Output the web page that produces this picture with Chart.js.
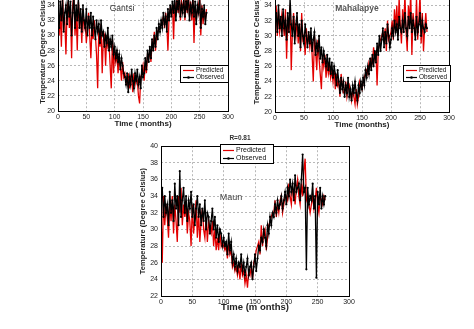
<!DOCTYPE html>
<html>
<head>
<meta charset="utf-8">
<script src="https://cdn.jsdelivr.net/npm/chart.js@4.4.0/dist/chart.umd.min.js"></script>
<style>
  html, body { margin: 0; padding: 0; background: #fff; }
  body { width: 474px; height: 329px; position: relative; overflow: hidden; font-family: "Liberation Sans", Arial, sans-serif; }
  canvas { position: absolute; }
  .lbl { position: absolute; transform: translate(-50%, -50%); white-space: nowrap; color: #333; }
</style>
</head>
<body>
<canvas id="gantsi" width="204" height="148" style="left:34px;top:-17px"></canvas>
<canvas id="mahalapye" width="211" height="149" style="left:248px;top:-17px"></canvas>
<canvas id="maun" width="225" height="178" style="left:134px;top:139px"></canvas>
<div class="lbl" style="left:122px;top:8px;font-size:8.5px;">Gantsi</div>
<div class="lbl" style="left:357px;top:8px;font-size:8.5px;font-weight:bold;color:#555;">Mahalapye</div>
<div class="lbl" style="left:231px;top:197px;font-size:9px;color:#444;">Maun</div>
<div class="lbl" style="left:240px;top:137px;font-size:6.5px;font-weight:bold;">R=0.81</div>
<script>
// month axis: one value every 2 months
const MONTH_STEP = 2;
const months = Array.from({ length: 132 }, (_, i) => i * MONTH_STEP);
const xTicks = [0, 50, 100, 150, 200, 250, 300];

// Gantsi
const gantsiObserved = [
  33.5, 31, 34.5, 32, 35, 30.5, 33, 34, 31.5, 35,
  32.5, 34.5, 30, 33, 35.5, 31, 34, 32, 35, 31,
  33.5, 30.5, 34, 32, 31, 33.5, 30, 32.5, 31, 33,
  30, 32.5, 31, 29.5, 32, 30.5, 31.5, 29, 32, 30,
  30.5, 28.5, 30, 29, 31, 28, 29.5, 28.5, 30, 27.5,
  28.5, 27, 28, 26.5, 27.5, 25.5, 27, 26, 25, 24.5,
  23.5, 25, 22.5, 24.5, 23.5, 25.5, 24, 23, 25, 24,
  25.5, 23.5, 24.5, 23, 26, 24.5, 25, 27, 25.5, 28,
  26.5, 28.5, 27, 29.5, 28, 30, 28.5, 31, 29.5, 31.5,
  30.5, 32, 31, 33, 31.5, 32.5, 30.5, 33.5, 32, 34,
  32.5, 34.5, 33, 35, 32, 34.5, 33.5, 35.5, 32.5, 34,
  33, 35, 32.5, 34.5, 33.5, 35.5, 32, 34, 33, 35,
  32.5, 34.5, 31.5, 34, 33, 35, 31, 33.5, 32.5, 34,
  31.5, 33
];
const gantsiPredicted = [
  34, 30, 33, 28.5, 35, 31.5, 32, 27.5, 33.5, 34.5,
  31, 33.5, 27, 34, 35.5, 30, 33, 28, 34.5, 32,
  32.5, 29, 33.5, 31, 32, 29, 31, 33, 30, 27,
  31, 29.5, 32, 30, 27.5, 23, 31, 28.5, 31.5, 25,
  29.5, 30, 26, 30, 28.5, 29, 26, 23, 29.5, 25,
  28, 26.5, 27.5, 25, 27, 26, 24, 26.5, 24.5, 25,
  24, 23.5, 25, 23, 24.5, 24, 22.5, 25, 23.5, 24.5,
  24, 22, 21, 24.5, 25, 26, 24, 26.5, 25, 27.5,
  27, 28, 26.5, 29, 28.5, 30.5, 28, 30, 30.5, 31,
  31, 31.5, 32, 32.5, 31, 33, 31.5, 28, 32.5, 33.5,
  33, 34, 29.5, 34.5, 32.5, 35, 33, 35.5, 32, 34.5,
  33.5, 34.5, 32, 35, 33, 35.5, 32.5, 34.5, 32, 35,
  29, 34, 32, 33.5, 34, 35, 30, 34, 31.5, 33.5,
  32, 33.5
];

// Mahalapye
const mahalapyeObserved = [
  31.5, 33, 30.5, 34, 31, 32.5, 30, 33.5, 31, 32,
  29.5, 33, 30.5, 35, 31.5, 30, 32.5, 29, 31.5, 33,
  30, 31.5, 28.5, 32, 30, 29, 31.5, 30, 28.5, 30.5,
  29, 31, 28, 29.5, 30.5, 27.5, 29, 28, 30, 27,
  28.5, 26.5, 28, 27, 26, 27.5, 25.5, 27, 25, 26.5,
  24.5, 26, 25, 23.5, 25.5, 24, 22.5, 24.5, 23, 24,
  22, 23.5, 22.5, 24.5, 22, 23, 21.5, 23.5, 22.5, 24,
  22.5, 21.5, 23.5, 22.5, 24, 23, 24.5, 23.5, 25.5, 24.5,
  26, 25, 27, 25.5, 27.5, 26, 28, 26.5, 29, 27.5,
  30, 28, 29.5, 31, 28.5, 30.5, 29, 31.5, 30, 28.5,
  29.5, 31, 30, 32, 30.5, 31.5, 29.5, 32.5, 31, 30.5,
  32, 30.5, 33, 31, 30, 32.5, 31, 33, 30.5, 32,
  31, 29.5, 32.5, 30.5, 31.5, 33, 30, 32, 31, 30.5,
  31.5, 31
];
const mahalapyePredicted = [
  32, 34, 30, 33.5, 30.5, 31.5, 33, 32, 30, 33.5,
  27, 32, 31, 34, 25.5, 30.5, 33, 31, 30, 32.5,
  29, 31.5, 28, 33, 29.5, 30, 27.5, 31, 29, 30,
  28.5, 30, 27.5, 24, 30, 28, 25.5, 29.5, 27, 25,
  23, 27.5, 26, 27.5, 24.5, 26.5, 25, 26, 24.5, 25.5,
  24, 25.5, 23, 25, 23.5, 24, 22, 25, 23.5, 22.5,
  22.5, 24, 22, 23, 23.5, 22.5, 21.5, 23, 22, 21,
  23, 21, 22, 24, 23.5, 23, 24, 24.5, 25, 25.5,
  25, 26.5, 26, 27, 26.5, 28.5, 27, 28, 23.5, 28,
  29, 29.5, 30, 30.5, 29.5, 31, 28, 32, 29.5, 30,
  30.5, 32, 29.5, 33.5, 31, 34, 30, 35, 31.5, 29,
  33.5, 31, 35.5, 30.5, 28, 34, 31.5, 36, 27.5, 33,
  31.5, 30, 35, 29.5, 32, 35.5, 29, 33, 28, 31,
  33, 30.5
];

// Maun
const maunObserved = [
  33.5, 35, 31.5, 34, 32, 33, 30.5, 34.5, 32, 33.5,
  31, 35.5, 32.5, 34, 30.5, 37, 31.5, 33.5, 35, 32,
  34, 31, 33.5, 32.5, 34.5, 31.5, 33, 30.5, 32.5, 34,
  31.5, 33, 30.5, 32.5, 31, 33.5, 30, 32, 31.5, 29.5,
  31, 32.5, 30, 31.5, 29, 30.5, 28.5, 30, 29.5, 28,
  29, 28, 28.5, 27, 29.5, 27.5, 28.5, 26, 27, 25.5,
  26.5, 25, 26, 25.5, 27, 25, 26, 24.5, 25.5, 26.5,
  24.5, 25.5, 26, 24, 25.5, 27, 25, 26.5, 28, 27.5,
  29, 28.5, 30, 29, 28, 30.5, 29.5, 31.5, 30.5, 32,
  31.5, 33, 32, 33.5, 32.5, 33, 34, 32.5, 33.5, 34.5,
  33, 35, 34, 36, 34.5, 35.5, 33.5, 36.5, 34.5, 35,
  35.5, 33.5, 36, 39, 34.5, 35, 25.2, 35, 33, 34,
  33.5, 35.5, 32.5, 34, 24.2, 34.5, 33, 35, 32.5, 34,
  33, 34
];
const maunPredicted = [
  32, 26, 34, 30.5, 33, 31.5, 29, 33.5, 31, 34,
  29.5, 33, 31, 28.5, 34, 32, 35, 30.5, 33, 31.5,
  33, 29.5, 32, 31, 28, 33, 29.5, 31.5, 33.5, 29,
  32, 28.5, 31, 32.5, 30, 29, 31.5, 28.5, 31, 30,
  29.5, 31, 28, 30, 27.5, 29, 27.5, 29.5, 28, 28.5,
  28, 27.5, 28, 26.5, 28.5, 27, 27.5, 25.5, 26, 25,
  25.5, 24.5, 25.5, 24, 26, 24.5, 25, 23.5, 24.5, 23,
  25, 24.5, 25.5, 24, 26, 26.5, 27.5, 28, 28.5, 27,
  30.5, 28, 29.5, 30, 27.5, 29, 30.5, 31, 31.5, 32,
  32, 33.5, 31.5, 33, 32, 33.5, 34, 32, 33, 34,
  34, 33.5, 35.5, 34, 33, 35, 34.5, 33, 35, 36,
  34, 33, 35.5, 34, 37, 38.5, 33.5, 34, 33, 32,
  33, 34, 32.5, 33.5, 35, 33, 32, 34, 33.5, 33,
  34, 33.5
];

const FONT = '"Liberation Sans", Arial, sans-serif';

function toPoints(values) {
  return values.map((v, i) => ({ x: months[i], y: v }));
}

// black box round the plot area
const framePlugin = {
  id: 'frame',
  afterDraw(chart) {
    const a = chart.chartArea;
    const ctx = chart.ctx;
    ctx.save();
    ctx.strokeStyle = '#000';
    ctx.lineWidth = 1;
    ctx.strokeRect(Math.round(a.left) + 0.5, Math.round(a.top) + 0.5,
      Math.round(a.right - a.left), Math.round(a.bottom - a.top));
    ctx.restore();
  }
};

// small boxed legend inside the plot
const boxLegendPlugin = {
  id: 'boxLegend',
  afterDraw(chart, args, o) {
    const ctx = chart.ctx;
    ctx.save();
    ctx.fillStyle = '#fff';
    ctx.fillRect(o.x, o.y, o.w, o.h);
    ctx.strokeStyle = '#000';
    ctx.lineWidth = 1;
    ctx.strokeRect(o.x + 0.5, o.y + 0.5, o.w, o.h);
    const rows = [chart.data.datasets[1], chart.data.datasets[0]];
    ctx.font = o.fontSize + 'px ' + FONT;
    ctx.textBaseline = 'middle';
    rows.forEach((ds, i) => {
      const y = Math.round(o.y + o.h * (i === 0 ? 0.3 : 0.72)) + 0.5;
      ctx.strokeStyle = ds.borderColor;
      ctx.lineWidth = 1.2;
      ctx.beginPath();
      ctx.moveTo(o.x + 3, y);
      ctx.lineTo(o.x + 14, y);
      ctx.stroke();
      if (ds.pointRadius > 0) {
        ctx.fillStyle = ds.borderColor;
        ctx.beginPath();
        ctx.arc(o.x + 8.5, y, 1.3, 0, Math.PI * 2);
        ctx.fill();
      }
      ctx.fillStyle = '#111';
      ctx.fillText(ds.label, o.x + 16, y);
    });
    ctx.restore();
  }
};

function makeChart(id, predicted, observed, cfg) {
  new Chart(document.getElementById(id), {
    type: 'line',
    data: {
      datasets: [
        {
          label: 'Observed',
          data: toPoints(observed),
          borderColor: '#000',
          borderWidth: 1.3,
          pointRadius: 1.1,
          pointBackgroundColor: '#000',
          pointBorderWidth: 0,
          order: 0
        },
        {
          label: 'Predicted',
          data: toPoints(predicted),
          borderColor: '#e30000',
          borderWidth: 1.3,
          pointRadius: 0,
          order: 1
        }
      ]
    },
    options: {
      responsive: false,
      animation: false,
      devicePixelRatio: 1,
      layout: { padding: { top: 6, right: cfg.padRight, left: 0, bottom: 0 } },
      plugins: {
        legend: { display: false },
        tooltip: { enabled: false },
        boxLegend: cfg.legend
      },
      scales: {
        x: {
          type: 'linear',
          min: 0,
          max: 300,
          afterBuildTicks: s => { s.ticks = xTicks.map(v => ({ value: v })); },
          ticks: { font: { family: FONT, size: 7 }, color: '#222', padding: 2, maxRotation: 0 },
          grid: { color: '#b8b8b8', drawTicks: false },
          border: { display: false, dash: [2, 2] },
          title: {
            display: true,
            text: cfg.xTitle,
            font: { family: FONT, size: cfg.xTitleSize, weight: 'bold' },
            color: '#222',
            padding: { top: 0, bottom: cfg.xTitlePad }
          },
          afterFit: s => { s.height = cfg.xHeight; }
        },
        y: {
          min: cfg.yMin,
          max: cfg.yMax,
          ticks: { stepSize: 2, font: { family: FONT, size: 7 }, color: '#222', padding: 3 },
          grid: { color: '#b8b8b8', drawTicks: false },
          border: { display: false, dash: [2, 2] },
          title: {
            display: true,
            text: 'Temperature (Degree Celsius)',
            font: { family: FONT, size: 7.5, weight: 'bold' },
            color: '#222'
          },
          afterFit: s => { s.width = cfg.yWidth; }
        }
      }
    },
    plugins: [framePlugin, boxLegendPlugin]
  });
}

makeChart('gantsi', gantsiPredicted, gantsiObserved, {
  padRight: 10, xHeight: 20, yWidth: 24, yMin: 20, yMax: 36,
  xTitle: 'Time ( months)', xTitleSize: 8, xTitlePad: 2,
  legend: { x: 146, y: 82, w: 48, h: 17, fontSize: 6.5 }
});

makeChart('mahalapye', mahalapyePredicted, mahalapyeObserved, {
  padRight: 10, xHeight: 20, yWidth: 27, yMin: 20, yMax: 36,
  xTitle: 'Time (months)', xTitleSize: 8, xTitlePad: 2,
  legend: { x: 155, y: 82, w: 47, h: 16, fontSize: 6.5 }
});

makeChart('maun', maunPredicted, maunObserved, {
  padRight: 10, xHeight: 21, yWidth: 27, yMin: 22, yMax: 40,
  xTitle: 'Time (m onths)', xTitleSize: 9.5, xTitlePad: 4,
  legend: { x: 86, y: 5, w: 53, h: 19, fontSize: 7 }
});
</script>
</body>
</html>
